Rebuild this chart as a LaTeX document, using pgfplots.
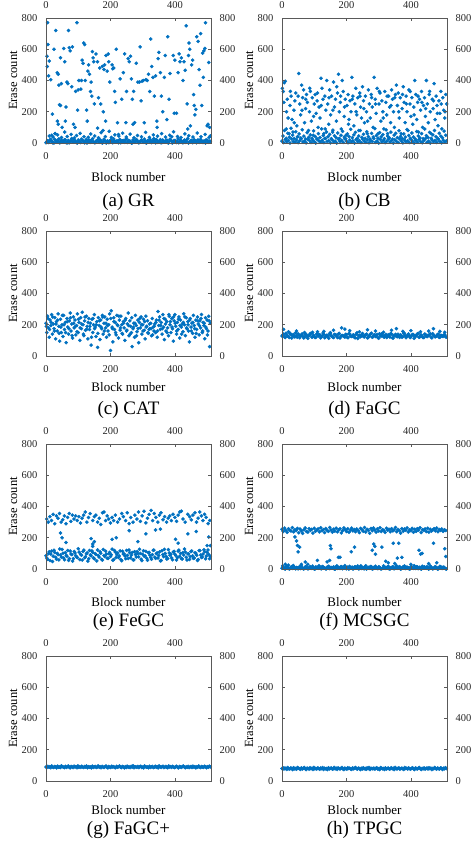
\documentclass[border=0pt]{standalone}
\usepackage{fontspec}
\setmainfont{Liberation Serif}
\usepackage{pgfplots}
\pgfplotsset{compat=1.18}
\definecolor{dotc}{RGB}{0,112,192}
\newcommand\lab{\fontsize{12.5}{14}\selectfont}
\newcommand\blab{\fontsize{13}{15}\selectfont}
\newcommand\capf{\fontsize{19}{21}\selectfont}
\pgfplotsset{
  pbase/.style={scale only axis, width=165pt, height=125pt,
    xmin=0, xmax=512, ymin=0, ymax=800,
    xtick={0,200,400}, ytick={0,200,400,600,800},
    anchor=north west,
    axis line style={draw=black!65, line width=0.7pt},
    tick style={draw=black!65, line width=0.6pt},
    major tick length=3pt,
    tick label style={font=\fontsize{10.5}{12}\selectfont, text=black!85},
    /pgf/number format/assume math mode=true},
  pmain/.style={pbase, xticklabel style={yshift=-5.5pt}, yticklabel style={xshift=-5pt}},
  pover/.style={pbase, xticklabel pos=upper, yticklabel pos=right,
    xticklabel style={yshift=5.5pt}, yticklabel style={xshift=5pt}},
  dots/.style={only marks, mark=*, mark size=1.6pt, color=dotc, mark options={draw=none, fill=dotc}},
}
% #1 x, #2 y(top), #3 caption, #4 offset of "Block number", #5 offset of caption, #6 data
\newcommand{\panel}[6]{%
  \begin{axis}[pmain, at={(#1pt,-#2pt)}]
    \addplot[dots] coordinates {#6};
  \end{axis}
  \begin{axis}[pover, at={(#1pt,-#2pt)}]
  \end{axis}
  \node[font=\lab, rotate=90] at ({#1pt-33pt},{-#2pt-62.5pt}) {Erase count};
  \node[font=\blab] at ({#1pt+82.5pt},{-#2pt-#4pt}) {Block number};
  \node[font=\capf] at ({#1pt+82.5pt},{-#2pt-#5pt}) {#3};
}
\begin{document}
\begin{tikzpicture}
\useasboundingbox (0pt,0pt) rectangle (474pt,-841pt);
% (a) GR
\panel{46}{18}{(a) GR}{159}{184}{
(0,2)(5,15)(10,6)(15,24)(20,9)(25,1)(30,18)(35,11)(40,27)(45,4)(50,13)(55,7)(60,21)(65,0)(70,16)(75,10)(80,29)(85,5)(90,12)(95,3)(100,19)(105,8)(110,25)(115,14)(120,1)(125,22)(130,6)(135,17)(140,9)(145,28)(150,3)(155,11)(160,20)(165,5)(170,15)(175,0)(180,24)(185,8)(190,13)(195,2)(200,18)(205,10)(210,26)(215,6)(220,14)(225,1)(230,21)(235,7)(240,16)(245,4)(250,27)(255,9)(260,12)(265,0)(270,19)(275,5)(280,23)(285,11)(290,3)(295,17)(300,8)(305,25)(310,2)(315,14)(320,10)(325,20)(330,6)(335,28)(340,1)(345,15)(350,9)(355,22)(360,4)(365,13)(370,7)(375,18)(380,0)(385,24)(390,11)(395,5)(400,16)(405,3)(410,26)(415,8)(420,12)(425,1)(430,19)(435,10)(440,29)(445,6)(450,14)(455,2)(460,21)(465,7)(470,17)(475,4)(480,23)(485,9)(490,13)(495,0)(500,18)(505,5)(510,11)
(2,8)(7,3)(12,19)(17,12)(22,0)(27,22)(32,6)(37,14)(42,2)(47,17)(52,9)(57,20)(62,4)(67,11)(72,1)(77,15)(82,7)(87,21)(92,10)(97,0)(102,13)(107,3)(112,18)(117,6)(122,12)(127,0)(132,16)(137,4)(142,20)(147,8)(152,1)(157,14)(162,10)(167,22)(172,3)(177,9)(182,17)(187,0)(192,12)(197,5)(202,20)(207,2)(212,15)(217,8)(222,11)(227,19)(232,1)(237,13)(242,6)(247,21)(252,3)(257,16)(262,9)(267,0)(272,14)(277,7)(282,18)(287,2)(292,11)(297,20)(302,5)(307,13)(312,0)(317,17)(322,8)(327,3)(332,15)(337,10)(342,22)(347,4)(352,12)(357,1)(362,19)(367,7)(372,14)(377,3)(382,10)(387,20)(392,0)(397,16)(402,6)(407,12)(412,2)(417,18)(422,9)(427,14)(432,4)(437,21)(442,0)(447,11)(452,17)(457,5)(462,13)(467,1)(472,19)(477,8)(482,15)(487,3)(492,10)(497,20)(502,6)(507,12)
(10,45)(22,38)(28,60)(36,52)(48,35)(58,70)(66,42)(78,55)(88,33)(95,48)(106,62)(118,40)(131,37)(139,58)(151,45)(163,34)(171,66)(184,41)(196,75)(203,36)(214,52)(226,44)(238,63)(249,38)(261,57)(273,34)(284,48)(296,40)(309,68)(321,36)(333,52)(346,44)(359,60)(371,38)(384,50)(396,72)(408,42)(419,35)(431,58)(443,46)(456,38)(469,64)(481,40)(494,55)(506,36)
(5,770)(3,555)(6,630)(4,490)(8,430)(15,405)(10,525)(20,185)(25,600)(30,720)(35,450)(38,440)(40,370)(42,245)(35,140)(38,120)(45,240)(48,380)(45,545)(50,100)(28,60)(18,50)
(55,605)(58,520)(62,230)(65,390)(68,380)(70,720)(72,610)(75,590)(80,360)(82,615)(85,120)(90,100)(92,330)(96,770)(98,210)(60,140)(100,340)(102,400)
(108,345)(110,400)(112,530)(115,510)(117,640)(120,630)(122,400)(126,210)(128,140)(130,460)(132,500)(135,440)(138,330)(140,390)(142,300)(144,585)(146,545)(148,520)(150,250)
(155,570)(160,520)(163,290)(167,480)(170,250)(175,490)(177,80)(180,470)(182,500)(186,560)(190,460)(193,570)(195,520)(198,390)(185,140)(178,200)(160,95)
(205,500)(207,475)(210,480)(213,330)(215,260)(218,600)(222,130)(230,410)(235,280)(240,450)(244,570)(248,130)(250,330)(225,55)
(255,540)(258,520)(262,555)(265,410)(268,280)(270,120)(272,330)(275,130)(280,510)(285,390)(290,390)(292,615)(295,270)(298,395)(302,400)
(305,130)(310,405)(314,400)(318,440)(322,330)(325,665)(328,490)(332,420)(336,300)(340,430)(344,140)(348,540)(350,580)(345,100)
(355,450)(358,300)(362,200)(367,420)(370,560)(375,150)(378,680)(382,280)(385,445)(390,40)(395,560)(398,190)(400,530)
(405,190)(410,450)(413,570)(416,520)(420,545)(425,400)(428,520)(432,465)(435,750)(438,250)(442,560)(444,640)(446,600)(448,110)(440,90)
(452,500)(455,530)(458,310)(460,240)(462,180)(465,215)(468,680)(472,650)(475,470)(478,370)(480,700)(483,240)(486,575)(488,420)(490,590)(493,605)(495,770)(500,110)(503,120)(505,515)(508,100)(510,45)
}
% (b) CB
\panel{282}{18}{(b) CB}{159}{184}{
(0,12)(5,3)(10,22)(15,8)(20,17)(25,0)(30,26)(35,10)(40,5)(45,19)(50,2)(55,14)(60,28)(65,7)(70,11)(75,1)(80,23)(85,16)(90,4)(95,20)(100,9)(105,0)(110,25)(115,13)(120,6)(125,18)(130,3)(135,29)(140,10)(145,15)(150,1)(155,21)(160,7)(165,12)(170,0)(175,24)(180,9)(185,17)(190,4)(195,27)(200,11)(205,2)(210,19)(215,6)(220,14)(225,0)(230,22)(235,8)(240,16)(245,3)(250,26)(255,12)(260,5)(265,20)(270,1)(275,15)(280,9)(285,28)(290,4)(295,13)(300,0)(305,23)(310,7)(315,18)(320,2)(325,11)(330,25)(335,6)(340,16)(345,0)(350,21)(355,10)(360,4)(365,27)(370,13)(375,1)(380,19)(385,8)(390,14)(395,3)(400,24)(405,11)(410,0)(415,17)(420,6)(425,22)(430,9)(435,2)(440,15)(445,28)(450,5)(455,12)(460,0)(465,20)(470,8)(475,16)(480,3)(485,25)(490,10)(495,1)(500,18)(505,7)(510,13)
(3,45)(8,80)(13,30)(18,62)(23,38)(28,95)(33,50)(38,28)(43,72)(48,40)(53,58)(58,32)(63,85)(68,44)(73,25)(78,66)(83,36)(88,52)(93,30)(98,78)(103,42)(108,26)(113,60)(118,35)(123,90)(128,48)(133,30)(138,70)(143,40)(148,55)(153,28)(158,82)(163,46)(168,34)(173,64)(178,30)(183,50)(188,75)(193,38)(198,27)(203,58)(208,42)(213,88)(218,33)(223,52)(228,68)(233,29)(238,45)(243,80)(248,36)(253,56)(258,30)(263,72)(268,41)(273,26)(278,62)(283,38)(288,92)(293,47)(298,31)(303,66)(308,40)(313,54)(318,28)(323,84)(328,44)(333,33)(338,70)(343,25)(348,50)(353,62)(358,35)(363,78)(368,43)(373,29)(378,58)(383,38)(388,86)(393,48)(398,31)(403,64)(408,39)(413,27)(418,74)(423,45)(428,33)(433,60)(438,28)(443,90)(448,47)(453,36)(458,68)(463,30)(468,52)(473,80)(478,40)(483,27)(488,62)(493,44)(498,34)(503,76)(508,50)
(1,350)(4,330)(7,385)(10,395)(13,90)(16,280)(19,160)(22,60)(25,240)(28,300)(31,150)(34,70)(37,210)(40,270)(43,320)(46,110)(49,40)(52,445)(55,250)(58,180)(61,370)(64,290)(67,340)(70,130)(73,220)(76,310)(79,260)(82,80)(85,200)(88,330)(91,140)(94,290)(97,50)(100,250)(103,310)(106,190)(109,270)(112,100)(115,230)(118,160)(121,415)(124,350)(127,280)(130,60)(133,300)(136,210)(139,400)(142,250)(145,120)(148,340)(151,180)(154,300)(157,70)(160,390)(163,230)(166,280)(169,140)(172,320)(175,440)(178,200)(181,260)(184,90)(187,400)(190,330)(193,170)(196,280)(199,50)(202,240)(205,310)(208,150)(211,270)(214,200)(217,420)(220,300)(223,110)(226,250)(229,350)(232,180)(235,290)(238,80)(241,320)(244,230)(247,160)(250,360)(253,270)(256,130)(259,300)(262,200)(265,60)(268,340)(271,250)(274,160)(277,310)(280,230)(283,100)(286,420)(289,280)(292,190)(295,350)(298,60)(301,250)(304,320)(307,140)(310,270)(313,200)(316,90)(319,330)(322,260)(325,180)(328,60)(331,300)(334,230)(337,130)(340,340)(343,280)(346,200)(349,100)(352,310)(355,370)(358,240)(361,320)(364,160)(367,290)(370,60)(373,220)(376,360)(379,260)(382,130)(385,300)(388,200)(391,80)(394,340)(397,250)(400,170)(403,290)(406,120)(409,230)(412,400)(415,310)(418,150)(421,260)(424,70)(427,280)(430,210)(433,330)(436,100)(439,240)(442,290)(445,170)(448,400)(451,250)(454,130)(457,310)(460,200)(463,60)(466,280)(469,220)(472,380)(475,150)(478,300)(481,240)(484,110)(487,270)(490,190)(493,330)(496,90)(499,290)(502,210)(505,160)(508,310)(511,250)
(6,260)(14,200)(26,330)(38,130)(50,300)(62,210)(74,280)(86,350)(98,170)(110,320)(122,240)(134,90)(146,290)(158,210)(170,360)(182,300)(194,230)(206,120)(218,280)(230,200)(242,300)(254,220)(266,140)(278,290)(290,250)(302,330)(314,160)(326,300)(338,240)(350,290)(362,200)(374,310)(386,250)(398,330)(410,180)(422,300)(434,260)(446,220)(458,330)(470,270)(482,190)(494,250)(506,200)
}
% (c) CAT
\panel{46}{231}{(c) CAT}{156}{179}{
(0,210)(2.5,150)(5,255)(7.5,180)(10,120)(12.5,230)(15,195)(17.5,265)(20,140)(22.5,205)(25,175)(27.5,245)(30,110)(32.5,220)(35,160)(37.5,270)(40,190)(42.5,95)(45,235)(47.5,150)(50,200)(52.5,125)(55,260)(57.5,170)(60,215)(62.5,85)(65,240)(67.5,185)(70,140)(72.5,225)(75,275)(77.5,160)(80,205)(82.5,115)(85,250)(87.5,180)(90,230)(92.5,135)(95,195)(97.5,270)(100,150)(102.5,215)(105,100)(107.5,245)(110,175)(112.5,280)(115,200)(117.5,130)(120,225)(122.5,165)(125,255)(127.5,190)(130,110)(132.5,240)(135,170)(137.5,210)(140,70)(142.5,235)(145,150)(147.5,200)(150,265)(152.5,185)(155,125)(157.5,220)(160,55)(162.5,245)(165,195)(167.5,105)(170,230)(172.5,175)(175,260)(177.5,140)(180,210)(182.5,250)(185,180)(187.5,120)(190,235)(192.5,160)(195,200)(197.5,270)(200,35)(202.5,290)(205,185)(207.5,90)(210,245)(212.5,170)(215,215)(217.5,135)(220,260)(222.5,195)(225,115)(227.5,230)(230,165)(232.5,255)(235,200)(237.5,140)(240,220)(242.5,180)(245,100)(247.5,240)(250,160)(252.5,205)(255,275)(257.5,130)(260,225)(262.5,190)(265,150)(267.5,60)(270,175)(272.5,210)(275,120)(277.5,260)(280,195)(282.5,155)(285,230)(287.5,85)(290,215)(292.5,180)(295,250)(297.5,140)(300,200)(302.5,235)(305,165)(307.5,110)(310,255)(312.5,190)(315,225)(317.5,145)(320,170)(322.5,175)(325,210)(327.5,130)(330,240)(332.5,185)(335,160)(337.5,205)(340,150)(342.5,230)(345,120)(347.5,285)(350,195)(352.5,250)(355,170)(357.5,215)(360,140)(362.5,265)(365,185)(367.5,105)(370,235)(372.5,160)(375,220)(377.5,180)(380,130)(382.5,255)(385,200)(387.5,150)(390,240)(392.5,175)(395,95)(397.5,225)(400,265)(402.5,190)(405,140)(407.5,215)(410,170)(412.5,250)(415,115)(417.5,230)(420,185)(422.5,205)(425,155)(427.5,270)(430,200)(432.5,130)(435,245)(437.5,175)(440,220)(442.5,160)(445,90)(447.5,240)(450,185)(452.5,210)(455,145)(457.5,260)(460,195)(462.5,120)(465,230)(467.5,170)(470,250)(472.5,205)(475,135)(477.5,225)(480,180)(482.5,265)(485,150)(487.5,215)(490,195)(492.5,110)(495,245)(497.5,175)(500,230)(502.5,160)(505,255)(507.5,60)(510,210)
(1,190)(6,240)(11,170)(16,215)(21,250)(26,160)(31,205)(36,230)(41,145)(46,185)(51,260)(56,200)(61,150)(66,220)(71,175)(76,245)(81,130)(86,210)(91,190)(96,155)(101,235)(106,180)(111,205)(116,140)(121,250)(126,170)(131,215)(136,190)(141,120)(146,240)(151,175)(156,200)(161,145)(166,225)(171,185)(176,250)(181,160)(186,210)(191,195)(196,135)(201,240)(206,175)(211,220)(216,150)(221,200)(226,255)(231,180)(236,145)(241,210)(246,230)(251,165)(256,195)(261,140)(266,245)(271,185)(276,210)(281,130)(286,175)(291,240)(296,200)(301,160)(306,220)(311,185)(316,150)(321,205)(326,175)(331,135)(336,190)(341,215)(346,160)(351,230)(356,195)(361,175)(366,240)(371,205)(376,150)(381,265)(386,220)(391,185)(396,250)(401,210)(406,160)(411,235)(416,195)(421,140)(426,215)(431,250)(436,180)(441,200)(446,230)(451,160)(456,215)(461,175)(466,145)(471,225)(476,195)(481,240)(486,160)(491,210)(496,185)(501,135)(506,225)
}
% (d) FaGC
\panel{282}{231}{(d) FaGC}{156}{179}{
(0,128)(5,140)(10,118)(15,133)(20,125)(25,145)(30,115)(35,137)(40,122)(45,130)(50,142)(55,117)(60,135)(65,126)(70,120)(75,138)(80,113)(85,131)(90,144)(95,123)(100,127)(105,119)(110,141)(115,134)(120,116)(125,129)(130,139)(135,121)(140,132)(145,114)(150,143)(155,126)(160,118)(165,136)(170,124)(175,140)(180,115)(185,130)(190,128)(195,121)(200,137)(205,117)(210,142)(215,125)(220,133)(225,119)(230,139)(235,112)(240,131)(245,127)(250,144)(255,122)(260,135)(265,116)(270,129)(275,141)(280,120)(285,134)(290,125)(295,138)(300,114)(305,130)(310,143)(315,123)(320,127)(325,118)(330,136)(335,121)(340,140)(345,115)(350,132)(355,126)(360,139)(365,119)(370,131)(375,124)(380,145)(385,117)(390,134)(395,128)(400,122)(405,137)(410,113)(415,129)(420,141)(425,120)(430,133)(435,126)(440,118)(445,138)(450,124)(455,130)(460,143)(465,116)(470,135)(475,122)(480,128)(485,140)(490,119)(495,131)(500,125)(505,136)(510,121)
(2.5,135)(7.5,122)(12.5,146)(17.5,128)(22.5,118)(27.5,139)(32.5,131)(37.5,124)(42.5,148)(47.5,120)(52.5,133)(57.5,127)(62.5,142)(67.5,116)(72.5,137)(77.5,125)(82.5,130)(87.5,144)(92.5,121)(97.5,134)(102.5,119)(107.5,140)(112.5,128)(117.5,136)(122.5,123)(127.5,147)(132.5,117)(137.5,132)(142.5,126)(147.5,141)(152.5,129)(157.5,121)(162.5,138)(167.5,134)(172.5,118)(177.5,145)(182.5,127)(187.5,131)(192.5,124)(197.5,139)(202.5,120)(207.5,143)(212.5,130)(217.5,126)(222.5,135)(227.5,117)(232.5,149)(237.5,129)(242.5,122)(247.5,137)(252.5,125)(257.5,133)(262.5,140)(267.5,119)(272.5,128)(277.5,146)(282.5,123)(287.5,136)(292.5,131)(297.5,118)(302.5,142)(307.5,127)(312.5,134)(317.5,121)(322.5,138)(327.5,125)(332.5,129)(337.5,144)(342.5,116)(347.5,132)(352.5,139)(357.5,123)(362.5,128)(367.5,135)(372.5,120)(377.5,147)(382.5,130)(387.5,126)(392.5,141)(397.5,118)(402.5,133)(407.5,137)(412.5,124)(417.5,129)(422.5,145)(427.5,122)(432.5,134)(437.5,119)(442.5,140)(447.5,127)(452.5,131)(457.5,136)(462.5,121)(467.5,143)(472.5,128)(477.5,125)(482.5,138)(487.5,120)(492.5,132)(497.5,126)(502.5,135)(507.5,123)
(5,170)(20,155)(45,160)(70,150)(95,152)(110,155)(130,158)(150,150)(160,165)(185,180)(195,172)(210,162)(240,155)(265,168)(290,160)(315,152)(340,165)(355,175)(375,158)(400,162)(430,155)(455,160)(470,175)(490,158)(505,152)
}
% (e) FeGC
\panel{46}{444}{(e) FeGC}{158}{178}{
(0,85)(5,62)(10,110)(15,95)(20,48)(25,120)(30,75)(35,100)(40,58)(45,90)(50,125)(55,70)(60,105)(65,82)(70,55)(75,115)(80,92)(85,66)(90,102)(95,78)(100,130)(105,60)(110,88)(115,112)(120,72)(125,97)(130,50)(135,118)(140,84)(145,106)(150,65)(155,93)(160,122)(165,76)(170,101)(175,57)(180,87)(185,114)(190,69)(195,98)(200,80)(205,127)(210,61)(215,108)(220,91)(225,73)(230,116)(235,53)(240,96)(245,83)(250,119)(255,67)(260,104)(265,89)(270,59)(275,111)(280,77)(285,99)(290,126)(295,63)(300,94)(305,81)(310,113)(315,56)(320,107)(325,74)(330,92)(335,121)(340,68)(345,103)(350,86)(355,52)(360,117)(365,79)(370,100)(375,64)(380,124)(385,88)(390,71)(395,109)(400,95)(405,58)(410,115)(415,82)(420,66)(425,105)(430,128)(435,75)(440,97)(445,61)(450,112)(455,84)(460,70)(465,101)(470,54)(475,118)(480,90)(485,77)(490,123)(495,65)(500,106)(505,93)(510,80)
(2.5,70)(7.5,98)(12.5,55)(17.5,115)(22.5,82)(27.5,105)(32.5,63)(37.5,92)(42.5,128)(47.5,76)(52.5,101)(57.5,59)(62.5,88)(67.5,118)(72.5,67)(77.5,96)(82.5,50)(87.5,112)(92.5,85)(97.5,73)(102.5,108)(107.5,94)(112.5,57)(117.5,121)(122.5,79)(127.5,103)(132.5,66)(137.5,90)(142.5,116)(147.5,71)(152.5,99)(157.5,52)(162.5,86)(167.5,110)(172.5,62)(177.5,125)(182.5,80)(187.5,95)(192.5,68)(197.5,107)(202.5,91)(207.5,56)(212.5,119)(217.5,74)(222.5,102)(227.5,83)(232.5,60)(237.5,114)(242.5,97)(247.5,65)(252.5,87)(257.5,122)(262.5,72)(267.5,106)(272.5,58)(277.5,93)(282.5,111)(287.5,78)(292.5,100)(297.5,54)(302.5,117)(307.5,84)(312.5,69)(317.5,104)(322.5,89)(327.5,62)(332.5,120)(337.5,76)(342.5,98)(347.5,71)(352.5,109)(357.5,55)(362.5,92)(367.5,126)(372.5,81)(377.5,67)(382.5,103)(387.5,95)(392.5,59)(397.5,113)(402.5,86)(407.5,73)(412.5,121)(417.5,100)(422.5,64)(427.5,90)(432.5,108)(437.5,57)(442.5,97)(447.5,79)(452.5,115)(457.5,68)(462.5,104)(467.5,88)(472.5,61)(477.5,118)(482.5,74)(487.5,96)(492.5,110)(497.5,83)(502.5,122)(507.5,66)
(2,320)(7,300)(12,335)(17,310)(22,350)(27,290)(32,340)(37,325)(42,355)(47,300)(52,315)(57,340)(62,290)(67,330)(72,355)(77,305)(82,345)(87,320)(92,340)(97,310)(102,335)(107,295)(112,325)(117,345)(122,365)(127,300)(132,330)(137,355)(145,310)(150,335)(155,345)(160,300)(165,325)(170,285)(175,360)(180,365)(185,310)(190,340)(195,320)(200,295)(205,330)(210,310)(215,345)(222,300)(228,320)(235,355)(240,335)(247,310)(252,360)(258,290)(263,330)(270,300)(276,345)(282,320)(287,365)(293,305)(298,340)(304,370)(310,295)(315,325)(320,350)(326,375)(331,310)(336,355)(341,330)(347,300)(352,345)(357,360)(363,315)(368,335)(374,300)(379,325)(384,340)(389,310)(394,350)(400,330)(405,305)(410,345)(415,365)(420,370)(425,320)(432,300)(440,350)(446,335)(451,315)(456,345)(462,360)(467,300)(472,325)(477,365)(482,340)(487,310)(492,350)(497,330)(503,290)(508,310)
(45,230)(50,200)(62,170)(140,195)(145,160)(150,175)(205,190)(218,200)(258,245)(285,175)(310,225)(340,250)(355,255)(402,190)(410,165)(440,225)(466,240)(505,205)(510,150)(500,150)(145,145)
}
% (f) MCSGC
\panel{282}{444}{(f) MCSGC}{158}{178}{
(0,255)(4,240)(8,262)(12,248)(16,235)(20,258)(24,250)(28,243)(32,265)(36,238)(40,252)(44,246)(48,260)(52,232)(56,256)(60,244)(64,228)(68,251)(72,263)(76,240)(80,236)(84,258)(88,247)(92,254)(96,230)(100,261)(104,242)(108,249)(112,257)(116,237)(120,264)(124,245)(128,252)(132,233)(136,259)(140,248)(144,241)(148,266)(152,250)(156,236)(160,255)(164,243)(168,261)(172,238)(176,250)(180,257)(184,231)(188,246)(192,263)(196,252)(200,240)(204,258)(208,235)(212,249)(216,262)(220,244)(224,253)(228,239)(232,256)(236,247)(240,233)(244,260)(248,251)(252,242)(256,265)(260,237)(264,254)(268,248)(272,229)(276,259)(280,245)(284,262)(288,250)(292,236)(296,257)(300,243)(304,264)(308,240)(312,252)(316,247)(320,234)(324,261)(328,249)(332,255)(336,238)(340,258)(344,244)(348,251)(352,266)(356,239)(360,253)(364,246)(368,230)(372,259)(376,242)(380,256)(384,248)(388,263)(392,237)(396,250)(400,245)(404,260)(408,235)(412,254)(416,241)(420,258)(424,249)(428,264)(432,233)(436,252)(440,247)(444,257)(448,240)(452,261)(456,236)(460,255)(464,243)(468,250)(472,258)(476,244)(480,262)(484,239)(488,253)(492,247)(496,256)(500,241)(504,251)(508,246)
(0,5)(5,12)(10,0)(15,18)(20,8)(25,3)(30,15)(35,22)(40,6)(45,10)(50,1)(55,14)(60,20)(65,4)(70,9)(75,17)(80,2)(85,11)(90,7)(95,19)(100,0)(105,13)(110,6)(115,21)(120,3)(125,16)(130,9)(135,1)(140,12)(145,18)(150,5)(155,8)(160,14)(165,0)(170,20)(175,10)(180,4)(185,15)(190,7)(195,22)(200,2)(205,11)(210,17)(215,6)(220,0)(225,13)(230,9)(235,19)(240,3)(245,15)(250,8)(255,1)(260,21)(265,5)(270,12)(275,16)(280,0)(285,10)(290,18)(295,4)(300,14)(305,7)(310,2)(315,20)(320,11)(325,6)(330,17)(335,0)(340,9)(345,13)(350,3)(355,22)(360,8)(365,15)(370,1)(375,12)(380,19)(385,5)(390,10)(395,0)(400,16)(405,7)(410,21)(415,4)(420,13)(425,9)(430,2)(435,18)(440,11)(445,6)(450,14)(455,0)(460,20)(465,8)(470,3)(475,15)(480,10)(485,1)(490,17)(495,5)(500,12)(505,7)(510,0)
(2.5,8)(7.5,2)(12.5,12)(17.5,5)(22.5,0)(27.5,10)(32.5,4)(37.5,14)(42.5,1)(47.5,7)(52.5,11)(57.5,3)(62.5,9)(67.5,0)(72.5,13)(77.5,6)(82.5,2)(87.5,15)(92.5,4)(97.5,8)(102.5,0)(107.5,11)(112.5,5)(117.5,9)(122.5,2)(127.5,14)(132.5,7)(137.5,1)(142.5,12)(147.5,3)(152.5,10)(157.5,6)(162.5,0)(167.5,13)(172.5,4)(177.5,8)(182.5,15)(187.5,2)(192.5,9)(197.5,5)(202.5,11)(207.5,0)(212.5,7)(217.5,12)(222.5,3)(227.5,14)(232.5,6)(237.5,1)(242.5,10)(247.5,4)(252.5,8)(257.5,13)(262.5,0)(267.5,9)(272.5,5)(277.5,15)(282.5,2)(287.5,11)(292.5,7)(297.5,3)(302.5,12)(307.5,0)(312.5,6)(317.5,10)(322.5,4)(327.5,14)(332.5,1)(337.5,8)(342.5,13)(347.5,2)(352.5,9)(357.5,5)(362.5,11)(367.5,0)(372.5,7)(377.5,15)(382.5,3)(387.5,12)(392.5,6)(397.5,1)(402.5,10)(407.5,4)(412.5,8)(417.5,14)(422.5,2)(427.5,11)(432.5,0)(437.5,7)(442.5,13)(447.5,5)(452.5,9)(457.5,3)(462.5,12)(467.5,1)(472.5,6)(477.5,10)(482.5,0)(487.5,8)(492.5,15)(497.5,4)(502.5,11)(507.5,2)
(2,20)(10,30)(20,25)(40,205)(45,180)(48,150)(50,110)(55,140)(60,30)(72,45)(80,30)(110,55)(140,45)(148,55)(150,150)(152,130)(175,75)(180,75)(215,110)(225,140)(245,20)(280,120)(285,160)(288,145)(290,95)(310,140)(322,50)(330,40)(345,165)(350,35)(358,70)(362,165)(372,75)(400,30)(425,120)(430,95)(435,100)(455,35)(470,165)(480,40)(505,130)(508,80)
}
% (g) FaGC+
\panel{46}{656}{(g) FaGC+}{154}{174}{
(0,90)(3,86)(6,94)(9,88)(12,92)(15,85)(18,96)(21,89)(24,87)(27,93)(30,91)(33,84)(36,95)(39,88)(42,90)(45,86)(48,97)(51,92)(54,89)(57,85)(60,94)(63,87)(66,91)(69,96)(72,88)(75,84)(78,93)(81,90)(84,86)(87,95)(90,89)(93,92)(96,85)(99,97)(102,88)(105,91)(108,87)(111,94)(114,90)(117,86)(120,93)(123,89)(126,96)(129,85)(132,92)(135,88)(138,90)(141,84)(144,95)(147,87)(150,91)(153,93)(156,86)(159,89)(162,97)(165,88)(168,92)(171,85)(174,94)(177,90)(180,87)(183,91)(186,96)(189,88)(192,84)(195,93)(198,89)(201,86)(204,95)(207,90)(210,92)(213,87)(216,85)(219,94)(222,88)(225,91)(228,96)(231,89)(234,86)(237,93)(240,90)(243,84)(246,92)(249,87)(252,95)(255,88)(258,91)(261,86)(264,94)(267,89)(270,97)(273,85)(276,92)(279,90)(282,88)(285,93)(288,86)(291,91)(294,95)(297,87)(300,89)(303,84)(306,96)(309,92)(312,88)(315,90)(318,85)(321,94)(324,87)(327,91)(330,93)(333,86)(336,89)(339,95)(342,88)(345,92)(348,84)(351,97)(354,90)(357,87)(360,91)(363,94)(366,86)(369,89)(372,93)(375,88)(378,85)(381,96)(384,90)(387,92)(390,87)(393,94)(396,89)(399,86)(402,91)(405,95)(408,88)(411,84)(414,93)(417,90)(420,87)(423,92)(426,96)(429,89)(432,85)(435,91)(438,88)(441,94)(444,86)(447,90)(450,93)(453,87)(456,95)(459,89)(462,92)(465,84)(468,91)(471,88)(474,96)(477,90)(480,86)(483,93)(486,89)(489,87)(492,94)(495,91)(498,85)(501,92)(504,88)(507,95)(510,90)
}
% (h) TPGC
\panel{282}{656}{(h) TPGC}{154}{174}{
(0,80)(3,76)(6,84)(9,78)(12,82)(15,74)(18,86)(21,79)(24,77)(27,83)(30,81)(33,73)(36,85)(39,78)(42,80)(45,75)(48,87)(51,82)(54,79)(57,74)(60,84)(63,77)(66,81)(69,86)(72,78)(75,73)(78,83)(81,80)(84,76)(87,85)(90,79)(93,82)(96,74)(99,87)(102,78)(105,81)(108,77)(111,84)(114,80)(117,75)(120,83)(123,79)(126,86)(129,74)(132,82)(135,78)(138,80)(141,73)(144,85)(147,77)(150,81)(153,83)(156,76)(159,79)(162,87)(165,78)(168,82)(171,74)(174,84)(177,80)(180,77)(183,81)(186,86)(189,78)(192,73)(195,83)(198,79)(201,76)(204,85)(207,80)(210,82)(213,77)(216,74)(219,84)(222,78)(225,81)(228,86)(231,79)(234,76)(237,83)(240,80)(243,73)(246,82)(249,77)(252,85)(255,78)(258,81)(261,75)(264,84)(267,79)(270,87)(273,74)(276,82)(279,80)(282,78)(285,83)(288,76)(291,81)(294,85)(297,77)(300,79)(303,73)(306,86)(309,82)(312,78)(315,80)(318,74)(321,84)(324,77)(327,81)(330,83)(333,76)(336,79)(339,85)(342,78)(345,82)(348,73)(351,87)(354,80)(357,77)(360,81)(363,84)(366,76)(369,79)(372,83)(375,78)(378,74)(381,86)(384,80)(387,82)(390,77)(393,84)(396,79)(399,76)(402,81)(405,85)(408,78)(411,73)(414,83)(417,80)(420,77)(423,82)(426,86)(429,79)(432,74)(435,81)(438,78)(441,84)(444,76)(447,80)(450,83)(453,77)(456,85)(459,79)(462,82)(465,73)(468,81)(471,78)(474,86)(477,80)(480,76)(483,83)(486,79)(489,77)(492,84)(495,81)(498,74)(501,82)(504,78)(507,85)(510,80)
}
\end{tikzpicture}
\end{document}
